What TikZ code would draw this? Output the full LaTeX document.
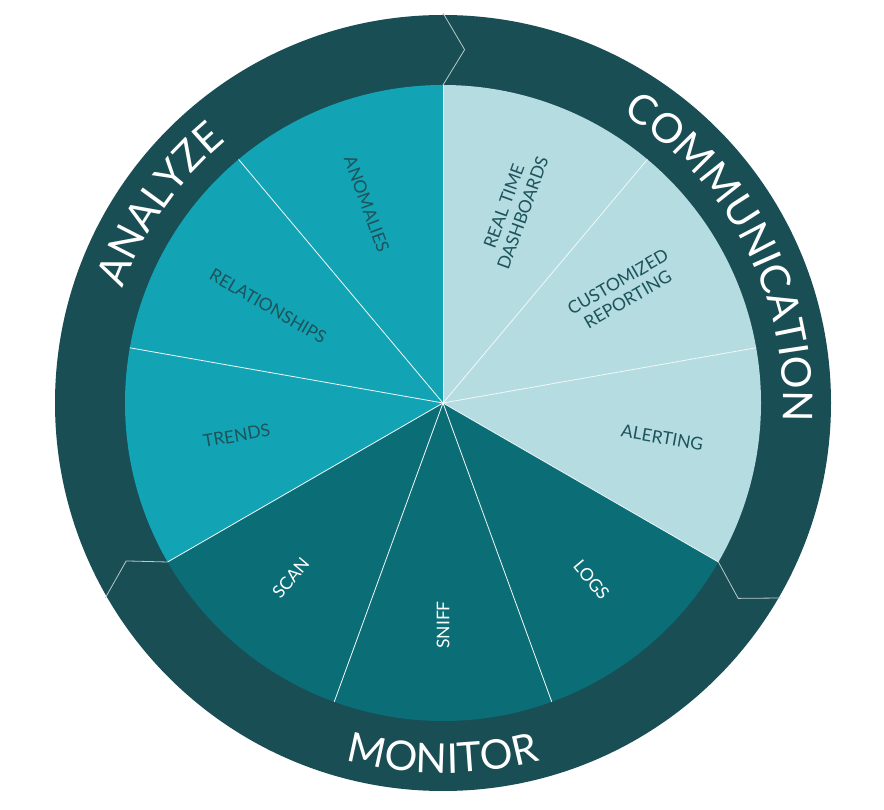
\documentclass[tikz,border=0pt]{standalone}
\usepackage{fontspec}
\setmainfont{Lato}
\usetikzlibrary{decorations.text}
\definecolor{ring}{HTML}{194E55}
\definecolor{lightw}{HTML}{B4DCE1}
\definecolor{analw}{HTML}{12A4B4}
\definecolor{monw}{HTML}{0B6D76}
\definecolor{darktxt}{HTML}{1D535A}
\tikzset{
  wlabel/.style={font=\fontsize{17.5}{20}\selectfont, align=center, inner sep=1pt},
  sep/.style={draw=white!85!lightw, line width=0.8pt},
  chev/.style={draw=white!70!ring, line width=0.8pt},
  ringtxt/.style={decorate, decoration={text along path, text align=center, text color=white}}
}
\begin{document}
\begin{tikzpicture}[x=1pt,y=1pt]
\useasboundingbox (0,0) rectangle (884,809);
\fill[white] (0,0) rectangle (884,809);
\begin{scope}[shift={(443,406)}]
\fill[ring] (0,0) circle (388);
\foreach \a/\c in {90/lightw,50/lightw,10/lightw,-30/monw,-70/monw,-110/monw,-150/analw,170/analw,130/analw}{
  \fill[\c] (0,0) -- (\a:318) arc (\a:\a-40:318) -- cycle;
}
\foreach \a in {90,50,10,-30,-70,-110,-150,170,130}{
  \draw[sep] (0,0) -- (\a:318);
}
\draw[chev] (90:390) -- (86.5:354) -- (90:318);
\draw[chev] (-30:390) -- (-33.5:354) -- (-30:318);
\draw[chev] (-150:390) -- (-153.5:354) -- (-150:318);
\node[wlabel, text=darktxt, rotate=-70] (anom) at (111:213) {ANOMALIES};
\node[wlabel, text=darktxt, rotate=70] (rtd) at (70:206) {REAL TIME\\DASHBOARDS};
\node[wlabel, text=darktxt, rotate=30] (cust) at (32:212) {CUSTOMIZED\\REPORTING};
\node[wlabel, text=darktxt, rotate=-10] (alert) at (-9:222) {ALERTING};
\node[wlabel, text=white, rotate=-50] (logs) at (-50:231) {LOGS};
\node[wlabel, text=white, rotate=90] (sniff) at (-90:222) {SNIFF};
\node[wlabel, text=white, rotate=50] (scan) at (-131:232) {SCAN};
\node[wlabel, text=darktxt, rotate=10] (trends) at (189:209) {TRENDS};
\node[wlabel, text=darktxt, rotate=-30] (rel) at (151:200) {RELATIONSHIPS};
\path[ringtxt, decoration={text={|\fontsize{41}{41}\selectfont|ANALYZE}}] (178:340) arc (178:112:340);
\path[ringtxt, decoration={text={|\fontsize{41}{41}\selectfont|COMMUNICATION}}] (75:340) arc (75:-20:340);
\path[ringtxt, decoration={text={|\fontsize{41}{41}\selectfont|MONITOR}}] (-127:370) arc (-127:-53:370);
\end{scope}
\end{tikzpicture}
\end{document}
